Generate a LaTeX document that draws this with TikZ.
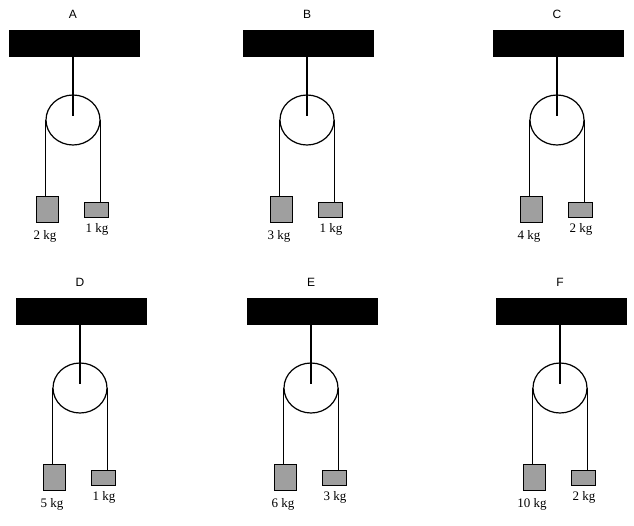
\documentclass[tikz,border=0pt]{standalone}
\usepackage{fontspec}
\usetikzlibrary{shapes.geometric}
\setmainfont{Liberation Serif}
\newfontfamily\titlefont{Liberation Sans}
\tikzset{
  bar/.style={fill=black,draw=black},
  rope/.style={line width=1.2pt},
  mass/.style={draw=black,line width=1pt,fill=gray!75},
  ttl/.style={font=\titlefont\fontsize{12}{14}\selectfont},
  lbl/.style={font=\fontsize{13}{15}\selectfont,inner sep=0pt}
}
\newcommand{\pulleyset}[6]{%
 \begin{scope}[shift={(#1,#2)}]
  \node[ttl] (t#3) at (0,0) {#3};
  \fill[bar] (-64,16) rectangle (66,42);
  \coordinate (h#3) at (0,42);
  \node[draw,line width=1.2pt,ellipse,minimum width=54pt,minimum height=50pt,inner sep=0pt] (p#3) at (0,106) {};
  \draw[rope] (h#3) -- (0,102);
  \node[mass,minimum width=22pt,minimum height=26pt,inner sep=0pt] (l#3) at (-26,195) {};
  \node[mass,minimum width=24pt,minimum height=15pt,inner sep=0pt] (r#3) at (23,195.5) {};
  \draw[rope] (p#3.west) -- (l#3.north -| p#3.west);
  \draw[rope] (p#3.east) -- (r#3.north -| p#3.east);
  \node[lbl] (a#3) at (-28,222) {#4};
  \node[lbl] (b#3) at (24,215) {#5};
 \end{scope}}
\begin{document}
\begin{tikzpicture}[x=1pt,y=-1pt]
\useasboundingbox (0,0) rectangle (634,525);
\pulleyset{73}{14}{A}{2 kg}{1 kg}{}
\pulleyset{307}{14}{B}{3 kg}{1 kg}{}
\pulleyset{557}{14}{C}{4 kg}{2 kg}{}
\pulleyset{80}{282}{D}{5 kg}{1 kg}{}
\pulleyset{311}{282}{E}{6 kg}{3 kg}{}
\pulleyset{560}{282}{F}{10 kg}{2 kg}{}
\end{tikzpicture}
\end{document}
